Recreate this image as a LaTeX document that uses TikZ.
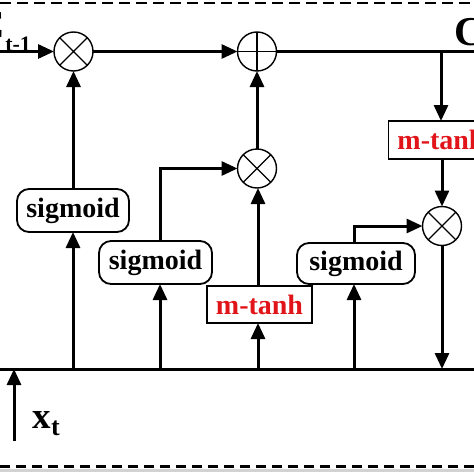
\documentclass[tikz,border=0pt]{standalone}
\usepackage{fontspec}
\setmainfont{Liberation Serif}
\usetikzlibrary{arrows.meta}
\definecolor{tanhred}{RGB}{225,20,25}
\tikzset{
  wire/.style={line width=3pt},
  arr/.style={wire,-{Triangle[length=16pt,width=14pt]}},
  op/.style={circle,draw,line width=1.4pt,minimum size=39pt,inner sep=0pt,outer sep=0pt},
  mult/.style={op,path picture={\draw[line width=1.4pt]
      (path picture bounding box.north west)--(path picture bounding box.south east)
      (path picture bounding box.north east)--(path picture bounding box.south west);}},
  plus/.style={op,path picture={\draw[line width=1.4pt]
      (path picture bounding box.north)--(path picture bounding box.south)
      (path picture bounding box.west)--(path picture bounding box.east);}},
  sigbox/.style={draw,line width=1.8pt,rounded corners=12pt,inner sep=0pt,outer sep=0pt,
      minimum height=43pt,font=\bfseries\fontsize{28}{30}\selectfont},
  tanhbox/.style={draw,line width=1.8pt,inner sep=0pt,outer sep=0pt,minimum width=105pt,
      minimum height=37pt,text=tanhred,font=\bfseries\fontsize{28}{30}\selectfont},
  frameline/.style={line width=2.2pt,dash pattern=on 11pt off 6pt},
  lbl/.style={inner sep=0pt,font=\bfseries}
}
\begin{document}
\begin{tikzpicture}[x=1pt,y=-1pt]
\useasboundingbox (0,0) rectangle (474,474);
\clip (0,0) rectangle (474,474);
\fill[white] (0,0) rectangle (474,474);
% frame
\coordinate (ftl) at (0,3); \coordinate (ftr) at (474,3);
\coordinate (fbl) at (0,466.5); \coordinate (fbr) at (474,466.5);
\draw[frameline] (ftl) -- (ftr);
\draw[line width=3pt,gray!35] (0,470) -- (474,470);
\draw[frameline,dash pattern=on 10pt off 6pt] (fbl) -- (fbr);

% operators
\node[mult] (m1) at (73.5,51.5) {};
\node[plus] (p)  at (257,51.5) {};
\node[mult] (m2) at (257,168.5) {};
\node[mult] (m3) at (442,226) {};

% gates
\node[sigbox,minimum width=112pt] (s1) at (73,210.5) {sigmoid};
\node[sigbox,minimum width=113pt] (s2) at (155.5,262.5) {sigmoid};
\node[sigbox,minimum width=118pt,minimum height=41pt] (s3) at (356,263.5) {sigmoid};
\node[tanhbox] (t1) at (259.5,304.5) {m-tanh};
\node[tanhbox,minimum height=38pt] (t2) at (441,140) {m-tanh};

% labels
\node[lbl,anchor=base west,font=\bfseries\fontsize{41}{41}\selectfont] (cprev) at (-25,38)
  {C\kern0.5pt\raisebox{-13pt}{\fontsize{22}{22}\selectfont t-1}};
\node[lbl,anchor=base west,font=\bfseries\fontsize{41}{41}\selectfont] (ct) at (454,45) {C};
\node[lbl,anchor=base west,font=\bfseries\fontsize{37}{37}\selectfont] (xt) at (32,428)
  {x\kern0.5pt\raisebox{-7pt}{\fontsize{26}{26}\selectfont t}};

% coordinates
\coordinate (cin) at (0,51.5);
\coordinate (cout) at (474,51.5);
\coordinate (cbr) at (441,51.5);
\coordinate (bl) at (0,369);
\coordinate (br) at (474,369);
\coordinate (b1) at (73,369);
\coordinate (b2) at (160,369);
\coordinate (b3) at (258,369);
\coordinate (b4) at (354,369);
\coordinate (xin) at (14,441);
\coordinate (xtop) at (14,369);

% wires
\draw[wire] (bl) -- (br);
\draw[arr] (xin) -- (xtop);
\draw[arr] (cin) -- (m1.west);
\draw[arr] (m1.east) -- (p.west);
\draw[wire] (p.east) -- (cout);
\draw[arr] (cbr) -- (cbr |- t2.north);
\draw[arr] (t2.south -| m3) -- (m3.north);
\draw[arr] (m3.south) -- (m3.south |- bl);

\draw[arr] (b1) -- (b1 |- s1.south);
\draw[arr] (s1.north -| m1) -- (m1.south);

\draw[arr] (b2) -- (b2 |- s2.south);
\draw[arr] (b2 |- s2.north) -- (b2 |- m2.west) -- (m2.west);

\draw[arr] (b3) -- (b3 |- t1.south);
\draw[arr] (b3 |- t1.north) -- (b3 |- m2.south);
\draw[arr] (m2.north) -- (p.south);

\draw[arr] (b4) -- (b4 |- s3.south);
\draw[arr] (b4 |- s3.north) -- (b4 |- m3.west) -- (m3.west);
\end{tikzpicture}
\end{document}
